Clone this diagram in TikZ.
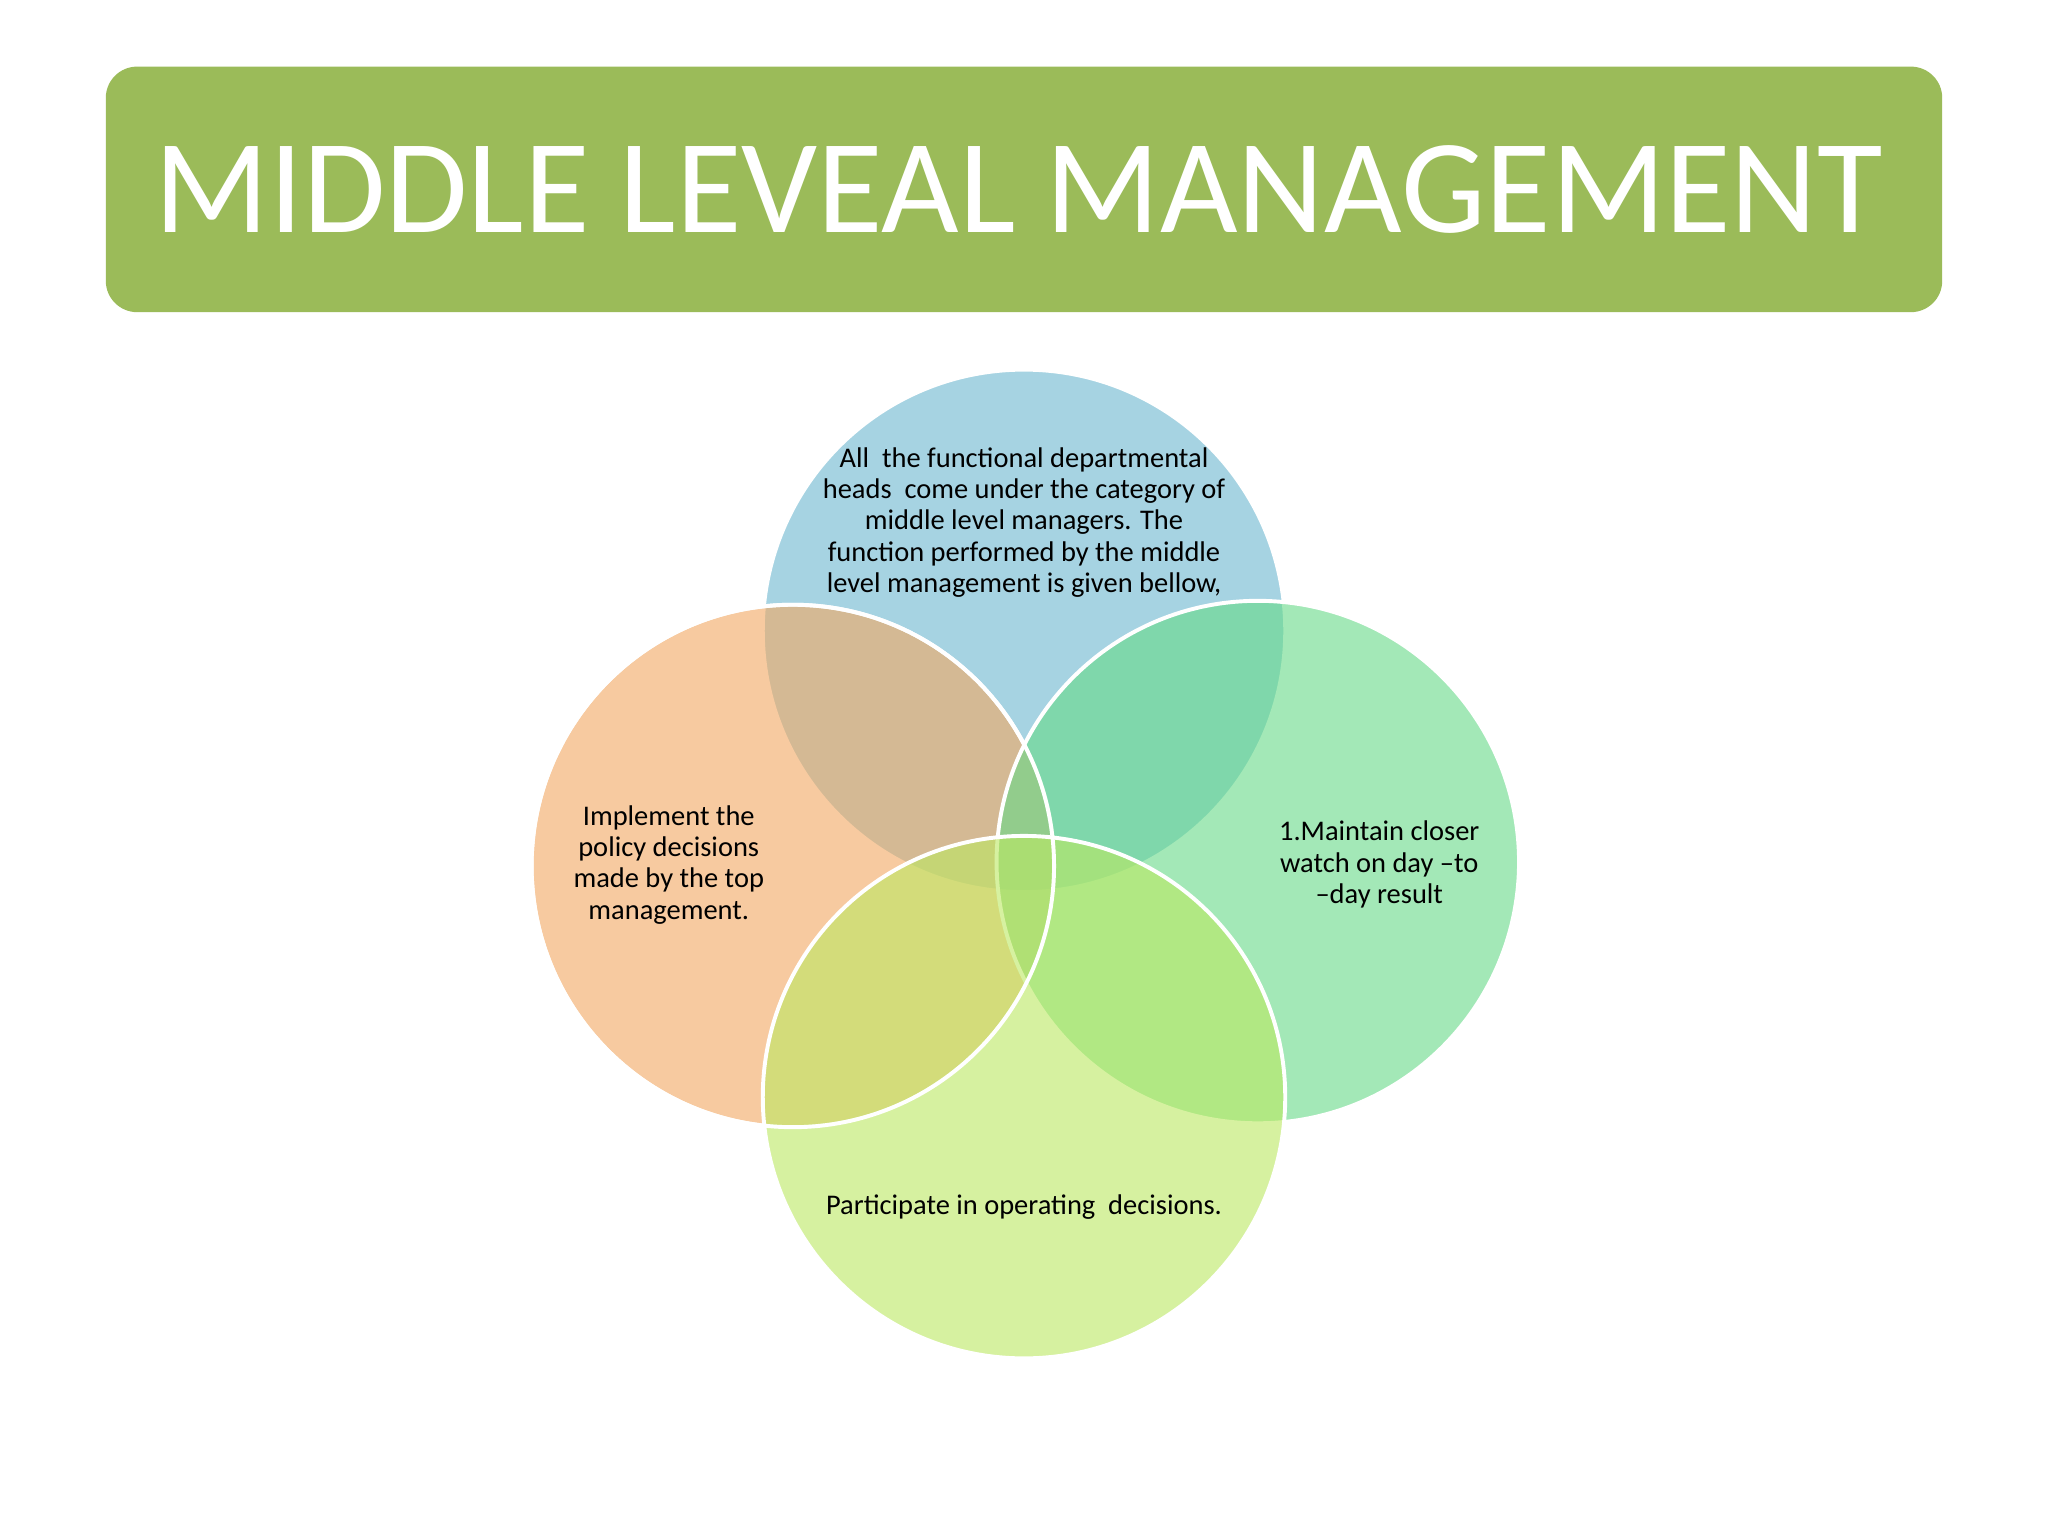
\documentclass[tikz,border=0pt]{standalone}
\usepackage{fontspec}
\setmainfont{Carlito}
\definecolor{ctop}{RGB}{108,183,207}
\definecolor{cleft}{RGB}{243,168,97}
\definecolor{cright}{RGB}{102,218,135}
\definecolor{cbot}{RGB}{187,233,97}
\definecolor{banner}{RGB}{155,187,89}
\begin{document}
\begin{tikzpicture}[x=0.5pt,y=-0.5pt,
  circ/.style={draw=white,line width=1.5pt,fill opacity=0.6},
  txt/.style={align=center,font=\fontsize{10.9}{12}\selectfont,text=black}]
\useasboundingbox (0,0) rectangle (1568,1176);
\fill[white] (0,0) rectangle (1568,1176);
\node[fill=banner,rounded corners=12pt,minimum width=703pt,minimum height=94pt,inner sep=0pt] (banner) at (784,145) {};
\node[text=white,font=\fontsize{51.3}{56}\selectfont] (title) at (780,145) {MIDDLE LEVEAL MANAGEMENT};
\draw[circ,fill=ctop] (784,483) circle (100pt);
\draw[circ,fill=cleft] (607,663) circle (100pt);
\draw[circ,fill=cright] (963,660) circle (100pt);
\draw[circ,fill=cbot] (784,840) circle (100pt);
\draw[draw=white,line width=1.5pt] (607,663) circle (100pt);
\node[txt] (t1) at (784,400) {All\ \ the functional departmental\\heads\ \ come under the category of\\middle level managers. The\\function performed by the middle\\level management is given bellow,};
\node[txt] (t2) at (512,662) {Implement the\\policy decisions\\made by the top\\management.};
\node[txt] (t3) at (1056,662) {1.Maintain closer\\watch on day –to\\–day result};
\node[txt] (t4) at (784,924) {Participate in operating\ \ decisions.};
\end{tikzpicture}
\end{document}
